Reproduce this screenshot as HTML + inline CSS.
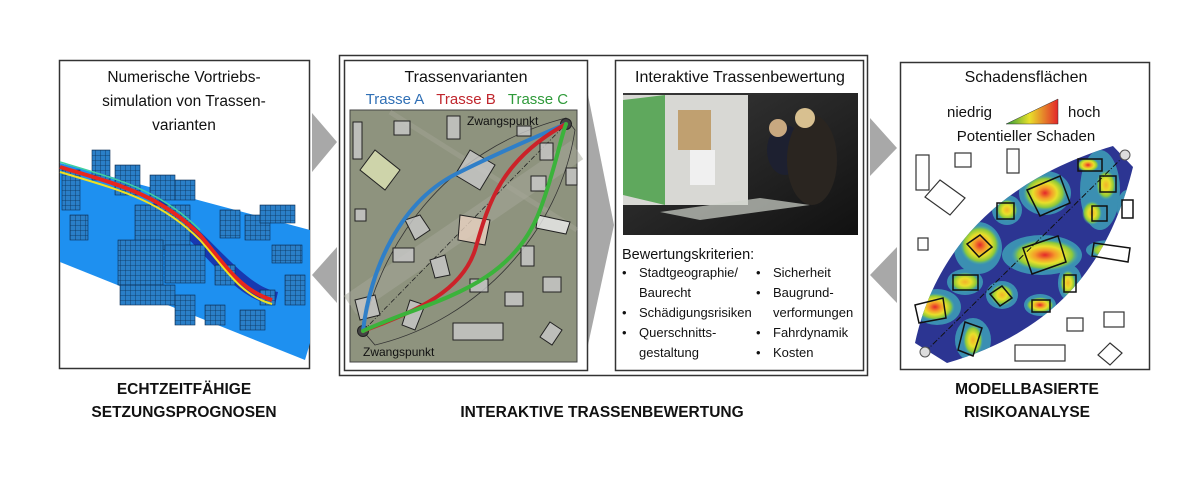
<!DOCTYPE html>
<html><head><meta charset="utf-8"><style>
body{margin:0;background:#fff;}
svg{display:block;font-family:"Liberation Sans","DejaVu Sans",sans-serif;}
</style></head><body>
<svg width="1200" height="503" viewBox="0 0 1200 503" xmlns="http://www.w3.org/2000/svg">
<defs>
<radialGradient id="heat" cx="50%" cy="50%" r="50%">
<stop offset="0" stop-color="#e3262a"/><stop offset="0.3" stop-color="#f59a2a"/><stop offset="0.55" stop-color="#e8e02a"/><stop offset="0.8" stop-color="#8cc83a"/><stop offset="1" stop-color="#3fb0b0" stop-opacity="0"/>
</radialGradient>
<radialGradient id="heat2" cx="50%" cy="50%" r="50%">
<stop offset="0" stop-color="#f2b22a"/><stop offset="0.4" stop-color="#e8e02a"/><stop offset="0.75" stop-color="#8cc83a"/><stop offset="1" stop-color="#3fb0b0" stop-opacity="0"/>
</radialGradient>
<linearGradient id="leg" x1="0" x2="1"><stop offset="0" stop-color="#2a9a3a"/><stop offset="0.45" stop-color="#e8e02a"/><stop offset="1" stop-color="#e3262a"/></linearGradient>
<clipPath id="leaf"><path d="M915,343 C935,250 1000,180 1113,146 L1133,167 C1110,260 1060,330 947,363 Z"/></clipPath>
<linearGradient id="photo" x1="0" y1="0" x2="1" y2="1"><stop offset="0" stop-color="#3a3a3a"/><stop offset="1" stop-color="#111"/></linearGradient>
<pattern id="bld" width="5" height="5" patternUnits="userSpaceOnUse">
<rect width="5" height="5" fill="#2a7fc8"/><path d="M0,0H5M0,0V5" stroke="#0b2f55" stroke-width="0.8"/>
</pattern>
</defs>

<!-- Left box -->
<rect x="59.5" y="60.5" width="250" height="308" fill="#fff" stroke="#333" stroke-width="1.5"/>
<g font-size="15.5" text-anchor="middle" fill="#111">
<text x="184" y="82">Numerische Vortriebs-</text>
<text x="184" y="106">simulation von Trassen-</text>
<text x="184" y="130">varianten</text>
</g>
<polygon points="60,163 310,230 310,343 305,360 60,262" fill="#1e90f0"/>
<path d="M150,205 C200,240 230,300 275,305 L278,292 C240,285 210,230 160,200 Z" fill="#1838b0"/>
<g fill="url(#bld)" stroke="#0b2f55" stroke-width="0.6">
<rect x="135" y="205" width="55" height="45"/><rect x="118" y="240" width="45" height="45"/>
<rect x="165" y="245" width="40" height="38"/><rect x="120" y="285" width="55" height="20"/>
<rect x="62" y="170" width="18" height="40"/><rect x="70" y="215" width="18" height="25"/>
<rect x="92" y="150" width="18" height="30"/><rect x="115" y="165" width="25" height="30"/>
<rect x="150" y="175" width="25" height="25"/><rect x="175" y="180" width="20" height="20"/>
<rect x="220" y="210" width="20" height="28"/><rect x="245" y="215" width="25" height="25"/>
<rect x="260" y="205" width="35" height="18"/><rect x="272" y="245" width="30" height="18"/>
<rect x="285" y="275" width="20" height="30"/><rect x="175" y="295" width="20" height="30"/>
<rect x="205" y="305" width="20" height="20"/><rect x="240" y="310" width="25" height="20"/>
<rect x="215" y="265" width="20" height="20"/><rect x="260" y="290" width="15" height="15"/>
</g>
<path d="M60,167 C120,185 160,195 200,235 C225,265 240,290 272,300" stroke="#e8261d" stroke-width="4" fill="none"/>
<path d="M60,172 C120,190 160,200 200,240 C225,268 240,295 272,304" stroke="#f0e020" stroke-width="2" fill="none"/>
<path d="M60,162 C120,180 160,190 200,230" stroke="#40d0a0" stroke-width="1.5" fill="none"/>
<g font-size="15.5" font-weight="bold" text-anchor="middle" fill="#111">
<text x="184" y="394">ECHTZEITFÄHIGE</text>
<text x="184" y="417">SETZUNGSPROGNOSEN</text>
<text x="602" y="417">INTERAKTIVE TRASSENBEWERTUNG</text>
<text x="1027" y="394">MODELLBASIERTE</text>
<text x="1027" y="417">RISIKOANALYSE</text>
</g>

<!-- arrows -->
<g fill="#a8a8a8">
<polygon points="312,113 337,142 312,172"/>
<polygon points="337,247 312,275 337,303"/>
<polygon points="588,95 614,225 588,345"/>
<polygon points="870,118 897,148 870,176"/>
<polygon points="897,247 870,275 897,303"/>
</g>

<!-- middle outer -->
<rect x="339.5" y="55.5" width="528" height="320" fill="none" stroke="#333" stroke-width="1.5"/>
<rect x="344.5" y="60.5" width="243" height="310" fill="none" stroke="#333" stroke-width="1.5"/>
<rect x="615.5" y="60.5" width="248" height="310" fill="#fff" stroke="#333" stroke-width="1.5"/>
<text x="466" y="82" font-size="16" text-anchor="middle" fill="#111">Trassenvarianten</text>
<g font-size="15" text-anchor="middle">
<text x="395" y="104" fill="#2f6fb5">Trasse A</text>
<text x="466" y="104" fill="#c0262d">Trasse B</text>
<text x="538" y="104" fill="#2f9a3a">Trasse C</text>
</g>
<rect x="350" y="110" width="227" height="252" fill="#8e937e" stroke="#444"/>
<path d="M350,305 L577,150" stroke="#a7a89a" stroke-width="22" opacity="0.5"/>
<path d="M390,112 L577,230" stroke="#a7a89a" stroke-width="5" opacity="0.4"/>
<path d="M363,331 C380,250 440,150 566,118 L575,130 C560,230 480,320 375,345 Z" fill="none" stroke="#333" stroke-width="0.8"/>
<path d="M363,331 L566,124" stroke="#222" stroke-width="0.8" stroke-dasharray="5,2,1,2"/>
<g fill="#c9c9c9" fill-opacity="0.8" stroke="#222" stroke-width="1">
<rect x="353" y="122" width="9" height="37"/><rect x="394" y="121" width="16" height="14"/>
<rect x="447" y="116" width="13" height="23"/><rect x="517" y="126" width="14" height="10"/>
<rect x="540" y="143" width="13" height="17"/><rect x="566" y="168" width="11" height="17"/>
<rect x="531" y="176" width="15" height="15"/><rect x="355" y="209" width="11" height="12"/>
<rect x="393" y="248" width="21" height="14"/><rect x="470" y="279" width="18" height="13"/>
<rect x="505" y="292" width="18" height="14"/><rect x="521" y="246" width="13" height="20"/>
<rect x="543" y="277" width="18" height="15"/><rect x="453" y="323" width="50" height="17"/>
<polygon points="375,150 400,170 385,190 360,170" fill="#dfe5b5"/>
<polygon points="470,150 495,165 480,190 455,175"/><polygon points="460,215 490,220 485,245 458,240" fill="#e8d2c0"/>
<polygon points="538,215 570,222 566,234 536,228" fill="#eee"/><polygon points="355,300 375,295 380,315 360,320"/>
<polygon points="405,220 420,215 430,230 415,240"/><polygon points="430,260 445,255 450,275 435,278"/>
<polygon points="410,300 425,305 415,330 402,325"/><polygon points="550,322 562,330 552,345 540,337"/>
</g>
<circle cx="566" cy="124" r="5.5" fill="#444" stroke="#222"/>
<circle cx="363" cy="331" r="5.5" fill="#444" stroke="#222"/>
<g fill="none" stroke-width="4" stroke-linecap="round">
<path d="M363,331 C370,270 400,200 460,172 C500,152 540,135 566,124" stroke="#2f7fc8"/>
<path d="M363,331 C420,310 462,290 475,250 C488,205 500,160 566,124" stroke="#cc2229"/>
<path d="M363,331 C430,300 510,290 540,210 C555,170 560,140 566,124" stroke="#3bb33b"/>
</g>
<text x="467" y="125" font-size="12" fill="#111">Zwangspunkt</text>
<text x="363" y="356" font-size="12" fill="#111">Zwangspunkt</text>

<!-- right inner panel -->
<text x="740" y="82" font-size="16" text-anchor="middle" fill="#111">Interaktive Trassenbewertung</text>
<rect x="623" y="93" width="235" height="142" fill="url(#photo)"/>
<rect x="623" y="95" width="125" height="110" fill="#d8d8d4"/>
<polygon points="623,100 665,95 665,205 623,195" fill="#4aa048" opacity="0.85"/>
<rect x="678" y="110" width="33" height="40" fill="#c0a070"/>
<rect x="690" y="150" width="25" height="35" fill="#f0f0f0"/>
<polygon points="660,212 760,198 810,205 700,220" fill="#d0d4cc" opacity="0.7"/>
<ellipse cx="785" cy="150" rx="18" ry="25" fill="#1d2030"/>
<ellipse cx="812" cy="160" rx="25" ry="45" fill="#2a2520"/>
<circle cx="778" cy="128" r="9" fill="#c8a880"/>
<circle cx="805" cy="118" r="10" fill="#d8c090"/>
<text x="622" y="259" font-size="14.5" fill="#111">Bewertungskriterien:</text>
<g font-size="13" fill="#111">
<text x="622" y="277">•</text><text x="639" y="277">Stadtgeographie/</text>
<text x="639" y="297">Baurecht</text>
<text x="622" y="317">•</text><text x="639" y="317">Schädigungsrisiken</text>
<text x="622" y="337">•</text><text x="639" y="337">Querschnitts-</text>
<text x="639" y="357">gestaltung</text>
<text x="756" y="277">•</text><text x="773" y="277">Sicherheit</text>
<text x="756" y="297">•</text><text x="773" y="297">Baugrund-</text>
<text x="773" y="317">verformungen</text>
<text x="756" y="337">•</text><text x="773" y="337">Fahrdynamik</text>
<text x="756" y="357">•</text><text x="773" y="357">Kosten</text>
</g>

<!-- right box -->
<rect x="900.5" y="62.5" width="249" height="307" fill="#fff" stroke="#333" stroke-width="1.5"/>
<text x="1026" y="82" font-size="16" text-anchor="middle" fill="#111">Schadensflächen</text>
<text x="947" y="117" font-size="15" fill="#111">niedrig</text>
<polygon points="1006,124 1058,99 1058,124" fill="url(#leg)" stroke="#333" stroke-width="0.5"/>
<text x="1068" y="117" font-size="15" fill="#111">hoch</text>
<text x="1026" y="141" font-size="15" text-anchor="middle" fill="#111">Potentieller Schaden</text>
<path d="M915,343 C935,250 1000,180 1113,146 L1133,167 C1110,260 1060,330 947,363 Z" fill="#2c3592"/>
<g clip-path="url(#leaf)">
<g fill="#3f9fb8" opacity="0.85">
<ellipse cx="1045" cy="193" rx="26" ry="22"/><ellipse cx="1100" cy="190" rx="20" ry="40"/>
<ellipse cx="978" cy="248" rx="24" ry="26"/><ellipse cx="1042" cy="255" rx="40" ry="20"/>
<ellipse cx="937" cy="307" rx="24" ry="18"/><ellipse cx="973" cy="340" rx="18" ry="22"/>
<ellipse cx="1070" cy="283" rx="12" ry="18"/><ellipse cx="1040" cy="305" rx="16" ry="11"/>
<ellipse cx="1002" cy="295" rx="16" ry="14"/><ellipse cx="1007" cy="210" rx="15" ry="15"/>
<ellipse cx="965" cy="282" rx="18" ry="13"/><ellipse cx="1110" cy="250" rx="24" ry="10"/>
<ellipse cx="1127" cy="208" rx="10" ry="18"/>
</g>
<ellipse cx="1045" cy="193" rx="22" ry="18" fill="url(#heat)"/>
<ellipse cx="1045" cy="255" rx="34" ry="16" fill="url(#heat)"/>
<ellipse cx="980" cy="245" rx="20" ry="20" fill="url(#heat)"/>
<ellipse cx="935" cy="307" rx="20" ry="14" fill="url(#heat)"/>
<ellipse cx="1088" cy="165" rx="11" ry="7" fill="url(#heat)"/>
<ellipse cx="1106" cy="185" rx="10" ry="15" fill="url(#heat2)"/>
<ellipse cx="1092" cy="213" rx="10" ry="12" fill="url(#heat2)"/>
<ellipse cx="1128" cy="208" rx="7" ry="13" fill="url(#heat2)"/>
<ellipse cx="1068" cy="283" rx="8" ry="13" fill="url(#heat2)"/>
<ellipse cx="1040" cy="305" rx="14" ry="8" fill="url(#heat)"/>
<ellipse cx="1002" cy="295" rx="12" ry="11" fill="url(#heat2)"/>
<ellipse cx="973" cy="340" rx="10" ry="16" fill="url(#heat2)"/>
<ellipse cx="965" cy="282" rx="15" ry="10" fill="url(#heat2)"/>
<ellipse cx="1007" cy="210" rx="11" ry="11" fill="url(#heat2)"/>
<ellipse cx="1110" cy="250" rx="20" ry="8" fill="url(#heat2)"/>
</g>
<path d="M925,352 L1125,155" stroke="#111" stroke-width="1" stroke-dasharray="6,2,1,2"/>
<circle cx="1125" cy="155" r="5" fill="#ddd" stroke="#555"/>
<circle cx="925" cy="352" r="5" fill="#ddd" stroke="#555"/>
<g fill="none" stroke="#111" stroke-width="1.5">
<rect x="1078" y="159" width="24" height="12"/><rect x="1100" y="176" width="16" height="16"/>
<rect x="1092" y="206" width="15" height="15"/><rect x="1122" y="200" width="11" height="18"/>
<rect x="1064" y="275" width="12" height="17"/><rect x="1032" y="300" width="18" height="12"/>
<rect x="953" y="275" width="25" height="15"/><rect x="997" y="203" width="17" height="16"/>
<polygon points="1027,190 1060,176 1070,203 1040,216"/>
<polygon points="1023,248 1058,236 1066,262 1032,274"/>
<polygon points="967,244 980,235 992,247 979,257"/>
<polygon points="915,305 943,298 946,318 919,323"/>
<polygon points="965,322 982,328 973,356 958,350"/>
<polygon points="990,294 1002,286 1012,298 1000,306"/>
<polygon points="1094,243 1130,248 1128,262 1092,256"/>
</g>
<g fill="#fff" stroke="#333" stroke-width="1.2">
<rect x="916" y="155" width="13" height="35"/><rect x="955" y="153" width="16" height="14"/>
<rect x="1007" y="149" width="12" height="24"/><rect x="918" y="238" width="10" height="12"/>
<rect x="1104" y="312" width="20" height="15"/><rect x="1067" y="318" width="16" height="13"/>
<rect x="1015" y="345" width="50" height="16"/>
<polygon points="940,180 965,198 950,215 925,197"/>
<polygon points="1110,343 1122,353 1110,365 1098,355"/>
</g>
</svg>
</body></html>
